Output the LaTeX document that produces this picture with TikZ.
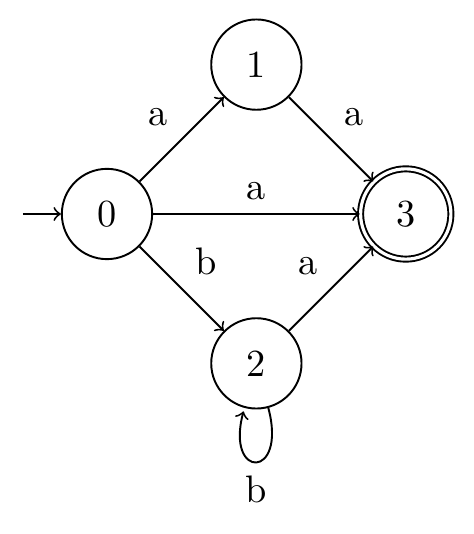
\documentclass[tikz,border=0pt,11pt]{standalone}
\usetikzlibrary{positioning,arrows}
\begin{document}
\begin{tikzpicture}[
    node distance=1.5cm, on grid, auto, line width=0.55pt,
    state/.style={circle, draw, minimum size=25.8pt, inner sep=0pt},
    accept/.style={state, double, double distance=0.9pt},
    arrow/.style={->}
]
\useasboundingbox (-30.57pt,-91.43pt) rectangle (104.86pt,61.14pt);

\node[state] (q0) {0};
\node[state, above right=1.5cm and 1.5cm of q0] (q1) {1};
\node[state, below right=1.5cm and 1.5cm of q0] (q2) {2};
\node[accept, right=3cm of q0] (q3) {3};
\coordinate[left=24pt of q0] (init);

\draw[arrow] (init) -- (q0);
\path[arrow] (q0) edge node {a} (q1)
    (q0) edge node {a} (q3)
    (q0) edge node {b} (q2)
    (q1) edge node {a} (q3)
    (q2) edge node {a} (q3)
    (q2) edge[loop below] node {b} (q2);
\end{tikzpicture}
\end{document}
